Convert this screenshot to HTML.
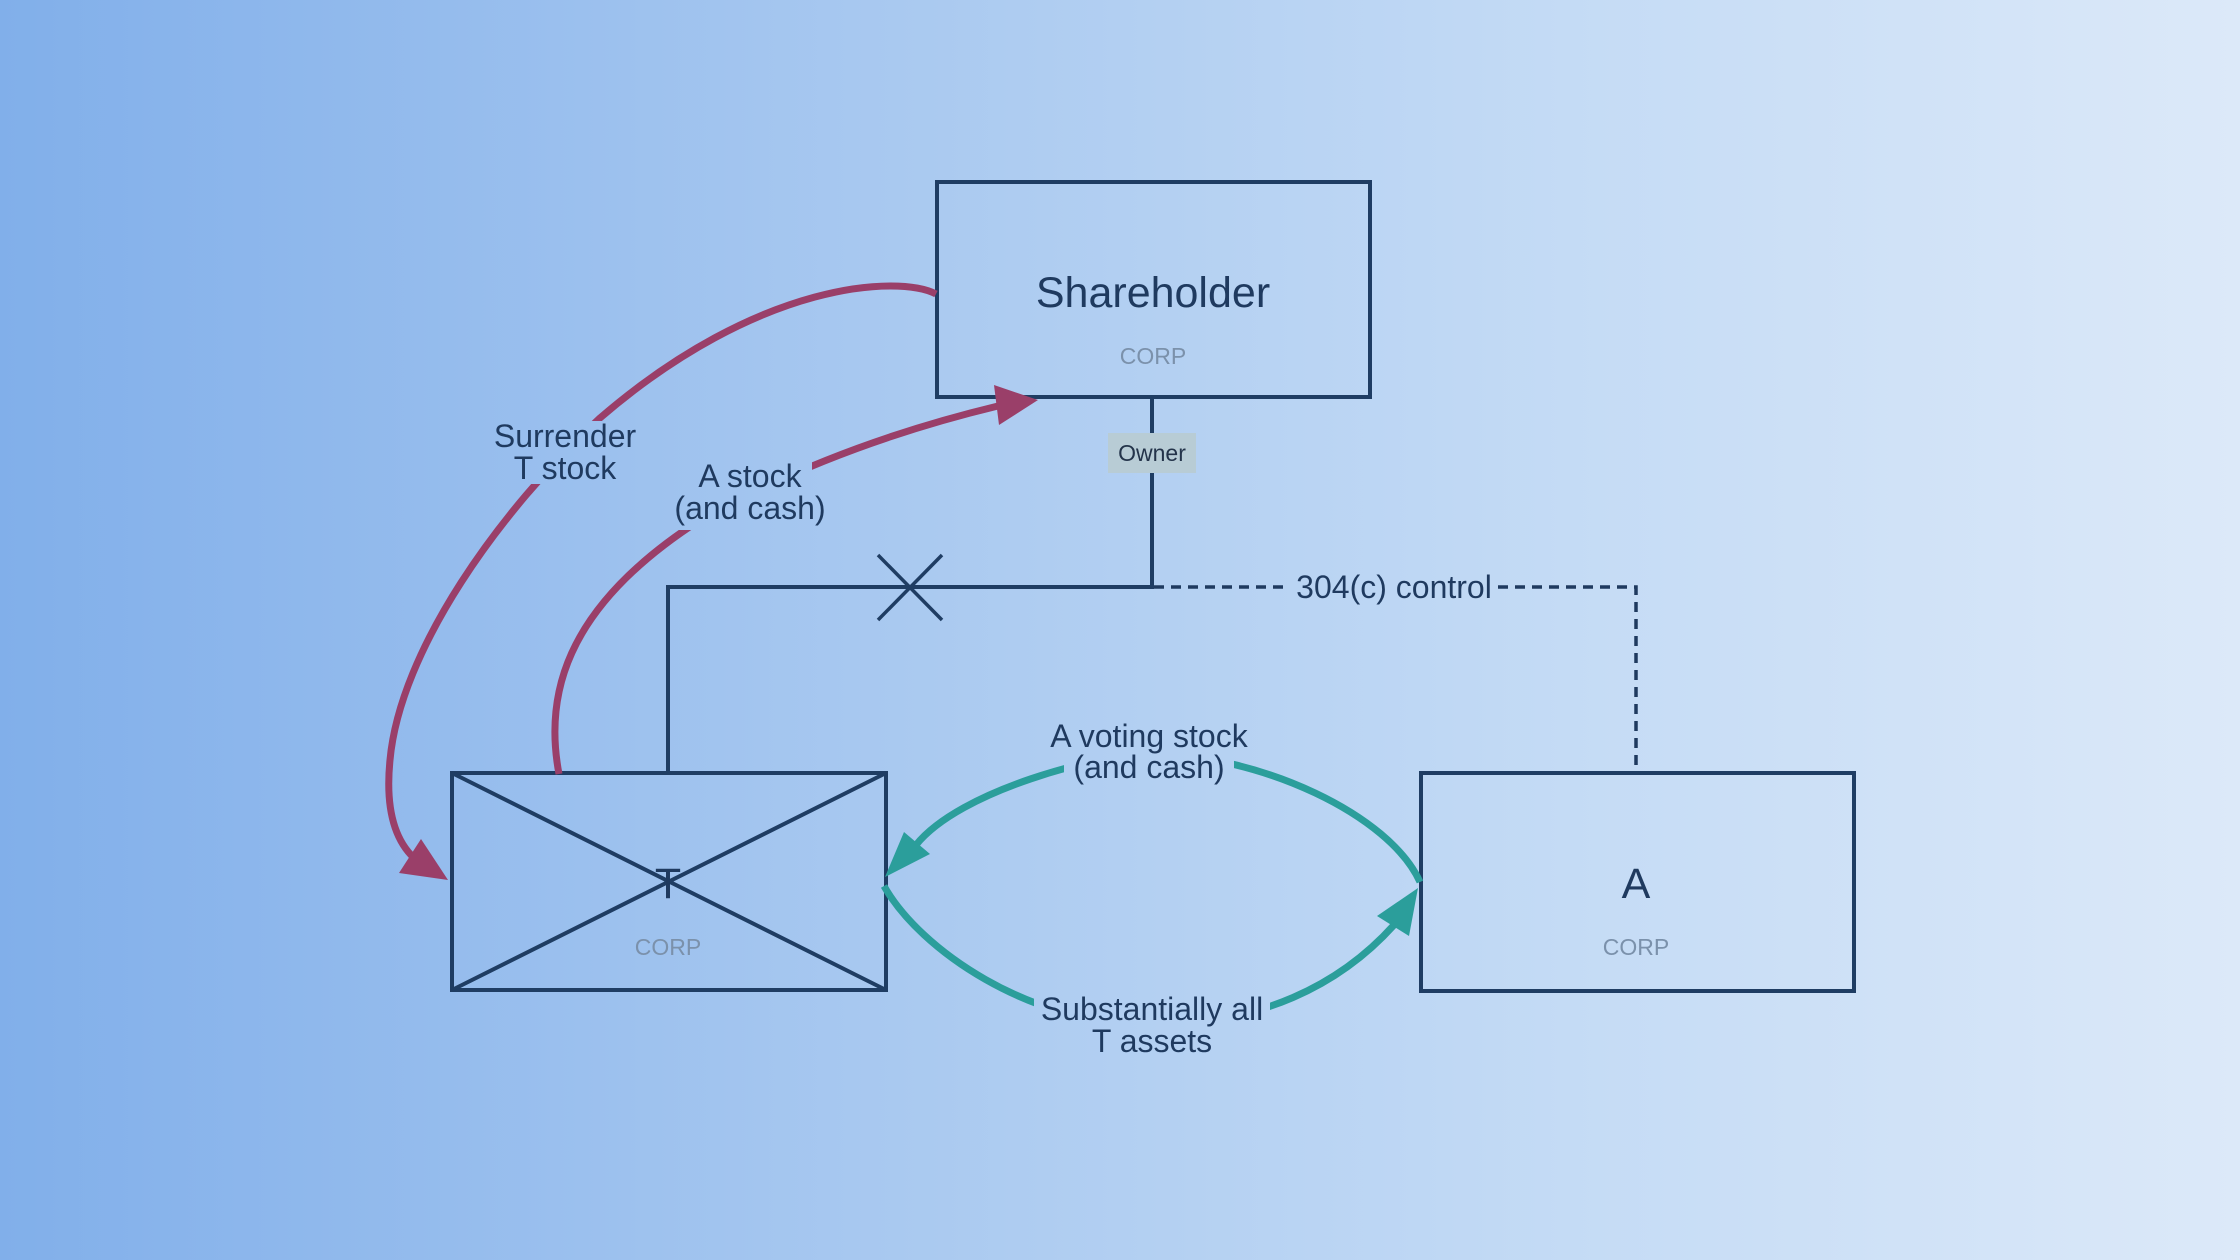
<!DOCTYPE html>
<html>
<head>
<meta charset="utf-8">
<style>
  html, body { margin: 0; padding: 0; }
  body { width: 2240px; height: 1260px; overflow: hidden;
         background: linear-gradient(to right, #81afea 0%, #a9c9f0 40%, #c4dbf5 70%, #dce9f9 100%); }
  svg { display: block; }
  text { font-family: "Liberation Sans", Arial, sans-serif; }
</style>
</head>
<body>
<svg width="2240" height="1260" viewBox="0 0 2240 1260" xmlns="http://www.w3.org/2000/svg">
  <defs>
    <mask id="mMag" maskUnits="userSpaceOnUse" x="0" y="0" width="2240" height="1260">
      <rect x="0" y="0" width="2240" height="1260" fill="#fff"/>
      <rect x="520" y="421" width="100" height="63" fill="#000"/>
      <rect x="668" y="455" width="144" height="75" fill="#000"/>
    </mask>
    <mask id="mTeal" maskUnits="userSpaceOnUse" x="0" y="0" width="2240" height="1260">
      <rect x="0" y="0" width="2240" height="1260" fill="#fff"/>
      <rect x="1064" y="718" width="170" height="70" fill="#000"/>
      <rect x="1034" y="990" width="236" height="72" fill="#000"/>
    </mask>
  </defs>

  <!-- connectors: ownership lines -->
  <g stroke="#1f3d63" stroke-width="4" fill="none">
    <line x1="1152" y1="397" x2="1152" y2="589"/>
    <polyline points="1154,587 668,587 668,773"/>
    <line x1="878" y1="555" x2="942" y2="620" stroke-width="3.5"/>
    <line x1="942" y1="555" x2="878" y2="620" stroke-width="3.5"/>
  </g>

  <!-- dashed 304(c) control -->
  <g stroke="#1f3a5f" stroke-width="3.5" fill="none" stroke-dasharray="10 7">
    <line x1="1154" y1="587" x2="1290" y2="587"/>
    <polyline points="1498,587 1636,587 1636,773"/>
  </g>

  <!-- Owner label -->
  <rect x="1108" y="433" width="88" height="40" fill="#b8ccd5"/>
  <text x="1152" y="461" font-size="23" fill="#24344a" text-anchor="middle">Owner</text>

  <!-- Shareholder box -->
  <rect x="937" y="182" width="433" height="215" fill="none" stroke="#1f3d63" stroke-width="4"/>
  <text x="1153" y="307" font-size="43" fill="#1f3a5f" text-anchor="middle">Shareholder</text>
  <text x="1153" y="364" font-size="23" fill="#7b91ab" text-anchor="middle">CORP</text>

  <!-- T box (crossed) -->
  <rect x="452" y="773" width="434" height="217" fill="none" stroke="#1f3d63" stroke-width="4"/>
  <line x1="452" y1="773" x2="886" y2="990" stroke="#1f3d63" stroke-width="4"/>
  <line x1="886" y1="773" x2="452" y2="990" stroke="#1f3d63" stroke-width="4"/>
  <text x="668" y="898" font-size="43" fill="#1f3a5f" text-anchor="middle">T</text>
  <text x="668" y="955" font-size="23" fill="#7b91ab" text-anchor="middle">CORP</text>

  <!-- A box -->
  <rect x="1421" y="773" width="433" height="218" fill="none" stroke="#1f3d63" stroke-width="4"/>
  <text x="1636" y="898" font-size="43" fill="#1f3a5f" text-anchor="middle">A</text>
  <text x="1636" y="955" font-size="23" fill="#7b91ab" text-anchor="middle">CORP</text>

  <!-- magenta arrows -->
  <g mask="url(#mMag)" stroke="#9a3f69" stroke-width="7" fill="none" stroke-linecap="butt">
    <path d="M 936 294 C 900 275, 760 280, 600 418 C 500 510, 400 650, 390 760 C 385 810, 395 840, 414 858"/>
    <path d="M 559 774 C 545 700, 560 610, 700 520 C 790 470, 890 432, 998 406"/>
  </g>
  <polygon points="448,880 399,873 421,839" fill="#9a3f69"/>
  <polygon points="1038,400 994,385 999,425" fill="#9a3f69"/>

  <!-- teal arrows -->
  <g mask="url(#mTeal)" stroke="#2b9e9b" stroke-width="7" fill="none">
    <path d="M 1420 882 C 1390 815, 1260 754, 1150 754 C 1100 754, 960 790, 916 845"/>
    <path d="M 884 886 C 920 950, 1030 1025, 1150 1025 C 1260 1025, 1340 985, 1394 925"/>
  </g>
  <polygon points="885,877 904,832 930,854" fill="#2b9e9b"/>
  <polygon points="1418,888 1377,916 1409,936" fill="#2b9e9b"/>

  <!-- connector labels -->
  <g font-size="32" fill="#1f3a5f" text-anchor="middle">
    <text x="565" y="447">Surrender</text>
    <text x="565" y="479">T stock</text>
    <text x="750" y="487">A stock</text>
    <text x="750" y="519">(and cash)</text>
    <text x="1394" y="598">304(c) control</text>
    <text x="1149" y="747">A voting stock</text>
    <text x="1149" y="778">(and cash)</text>
    <text x="1152" y="1020">Substantially all</text>
    <text x="1152" y="1052">T assets</text>
  </g>
</svg>
</body>
</html>
